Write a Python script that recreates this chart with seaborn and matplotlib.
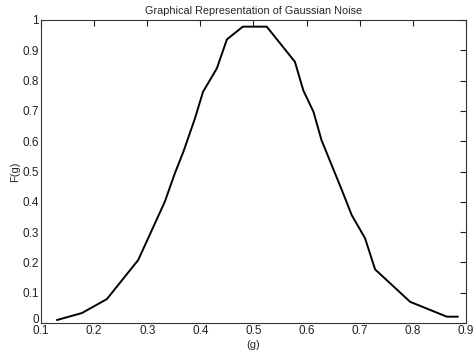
import matplotlib
matplotlib.use("Agg")
import matplotlib.pyplot as plt
import seaborn as sns
import pandas as pd
from matplotlib.ticker import FuncFormatter

g_values = [0.13, 0.177, 0.224, 0.283, 0.333, 0.352, 0.368, 0.39, 0.405, 0.431,
            0.45, 0.48, 0.525, 0.578, 0.594, 0.613, 0.628, 0.667, 0.685, 0.71,
            0.729, 0.795, 0.864, 0.885]
f_values = [0.01, 0.033, 0.079, 0.208, 0.40, 0.494, 0.565, 0.676, 0.763, 0.84,
            0.936, 0.978, 0.978, 0.862, 0.767, 0.697, 0.604, 0.436, 0.356, 0.28,
            0.177, 0.07, 0.021, 0.021]
x_ticks = [0.1, 0.2, 0.3, 0.4, 0.5, 0.6, 0.7, 0.8, 0.9]
y_ticks = [0, 0.1, 0.2, 0.3, 0.4, 0.5, 0.6, 0.7, 0.8, 0.9, 1]

sns.set_style("white")
plt.rcParams['font.family'] = ['Liberation Sans', 'DejaVu Sans']

df = pd.DataFrame({"g": g_values, "F": f_values})

fig = plt.figure(figsize=(4.74, 3.55), dpi=100)
ax = fig.add_axes([0.0865, 0.090, 0.8965, 0.8537])
sns.lineplot(data=df, x="g", y="F", ax=ax, color="black", linewidth=1.4,
             sort=False, estimator=None)

ax.set_xlim(0.1, 0.9)
ax.set_ylim(0, 1)
ax.set_xticks(x_ticks)
ax.set_yticks(y_ticks)
fmt = FuncFormatter(lambda v, p: f"{v:g}")
ax.xaxis.set_major_formatter(fmt)
ax.yaxis.set_major_formatter(fmt)
ax.tick_params(direction="in", length=4, width=0.8, colors="#222222",
               labelsize=8.5, top=True, right=True, pad=1.5)
for s in ax.spines.values():
    s.set_visible(True)
    s.set_color("#333333")
    s.set_linewidth(0.8)
ax.set_xlabel("(g)", fontsize=8, labelpad=2)
ax.set_ylabel("F(g)", fontsize=8, labelpad=2)
ax.set_title("Graphical Representation of Gaussian Noise", fontsize=7.8, pad=4)

fig.canvas.draw()
ax.get_yticklabels()[0].set_verticalalignment("baseline")

fig.savefig("out.png", dpi=100)
